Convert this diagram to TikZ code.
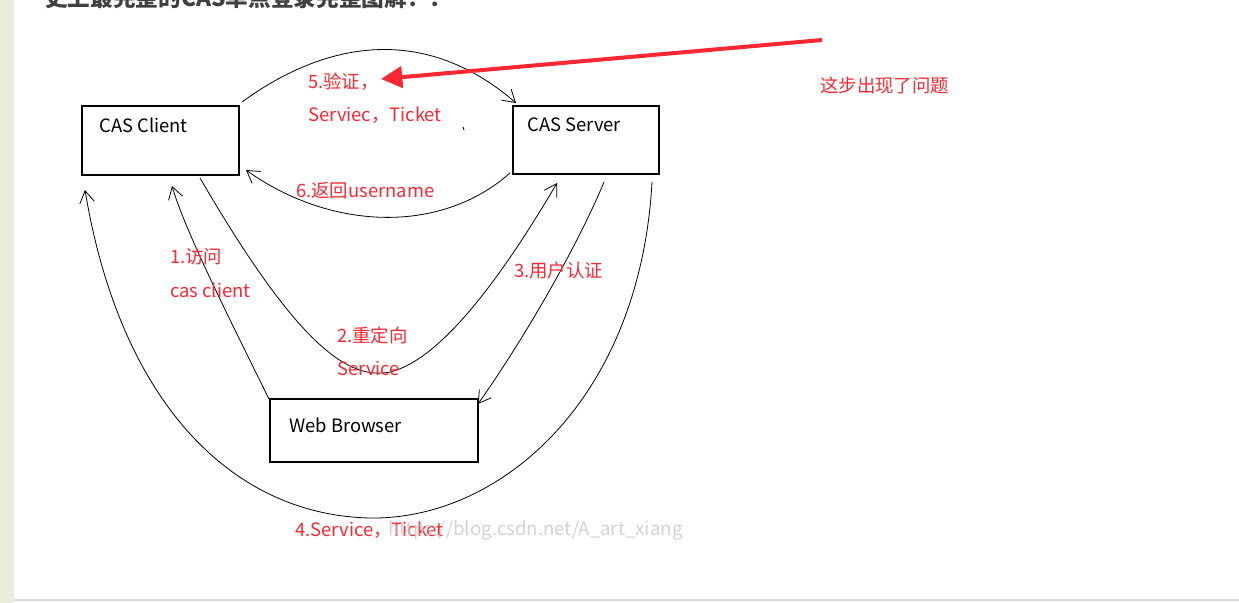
\documentclass[tikz,border=0pt]{standalone}
\usepackage{fontspec}
\setmainfont{Noto Sans CJK SC}
\usetikzlibrary{arrows.meta}
\definecolor{lbl}{RGB}{250,40,50}
\definecolor{strip}{RGB}{236,236,218}
\begin{document}
\begin{tikzpicture}[x=0.75pt,y=-0.75pt,
  txt/.style={anchor=west,inner sep=0,font=\fontsize{13.8}{15}\selectfont},
  red/.style={txt,text=lbl},
  con/.style={line width=0.6pt,-{Straight Barb[length=9pt,width=11pt]}}]
\useasboundingbox (0,0) rectangle (1239,603);
\clip (0,0) rectangle (1239,603);
\fill[strip] (0,0) rectangle (14,603);
\draw[gray!30,line width=1pt] (14,600) -- (1239,600);
\node[anchor=west,inner sep=0,font=\fontsize{17}{19}\selectfont\bfseries,text=black!75] (head) at (45,-2) {史上最完整的CAS单点登录完整图解：：};
% boxes
\draw[line width=0.8pt] (82,106) rectangle (239,175);
\draw[line width=0.8pt] (513,106) rectangle (659,174);
\draw[line width=0.8pt] (270,399) rectangle (478,462);
\node[txt] (client) at (99,125) {CAS Client};
\node[txt] (server) at (527,125) {CAS Server};
\node[txt] (browser) at (289,425) {Web Browser};
% connectors
\coordinate (a5s) at (242,102); \coordinate (a5e) at (516,103);
\draw[con] (a5s) .. controls (320,45) and (420,20) .. (a5e);
\coordinate (a6s) at (510,173); \coordinate (a6e) at (246,170);
\draw[con] (a6s) .. controls (440,235) and (330,230) .. (a6e);
\coordinate (a1s) at (269,399); \coordinate (a1e) at (172,186);
\draw[con] (a1s) .. controls (225,310) and (185,230) .. (a1e);
\coordinate (a2s) at (200,178); \coordinate (a2e) at (557,183);
\draw[con] (a2s) .. controls (300,350) and (350,380) .. (390,372) .. controls (440,360) and (500,280) .. (a2e);
\coordinate (a3s) at (478,404); \coordinate (a3e) at (604,182);
\draw[con,{Straight Barb[length=9pt,width=11pt]}-] (a3s) .. controls (530,330) and (580,240) .. (a3e);
\coordinate (a4s) at (652,182); \coordinate (a4e) at (85,190);
\draw[con] (a4s) .. controls (640,400) and (500,520) .. (370,518) .. controls (230,515) and (120,400) .. (a4e);
\draw[line width=0.6pt] (464,130) -- (463,127);
% red arrow
\coordinate (rs) at (822,40); \coordinate (re) at (381,79);
\draw[lbl,line width=3pt,-{Triangle[length=16pt,width=16pt]}] (rs) -- (re);
% labels
\node[red] (l5) at (308,82) {5.验证，};
\node[red] (l5b) at (308,115) {Serviec，Ticket};
\node[red] (l6) at (296,191) {6.返回username};
\node[red] (l1) at (170,257) {1.访问};
\node[red] (l1b) at (170,290) {cas client};
\node[red] (l2) at (337,335) {2.重定向};
\node[red] (l2b) at (337,368) {Service};
\node[red] (l3) at (514,271) {3.用户认证};
\node[red] (l4) at (295,530) {4.Service，Ticket};
\node[red] (note) at (820,85) {这步出现了问题};
\node[anchor=west,inner sep=0,font=\fontsize{14}{16}\selectfont,text=black!22,opacity=0.8] (wm) at (388,530) {https://blog.csdn.net/A\_art\_xiang};
\end{tikzpicture}
\end{document}
